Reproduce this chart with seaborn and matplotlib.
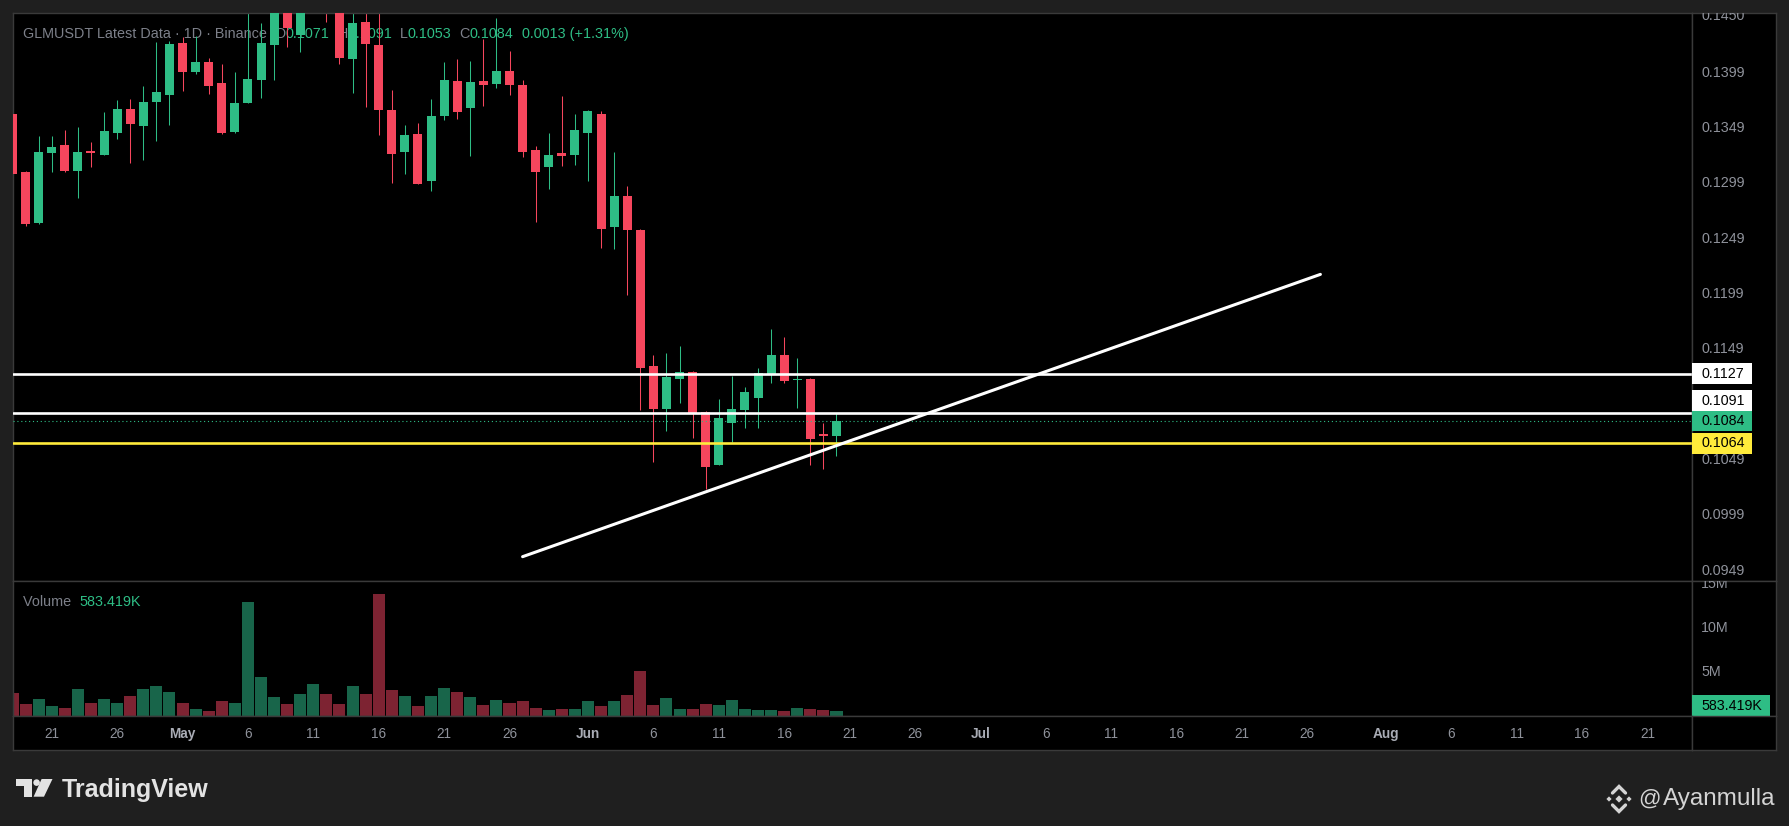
import numpy as np
import pandas as pd
import matplotlib
matplotlib.use("Agg")
import matplotlib.pyplot as plt
import seaborn as sns
from matplotlib.patches import Rectangle, Polygon, Circle
from matplotlib.transforms import blended_transform_factory

#######################################################################
# DATA  (GLMUSDT daily candles)
start_date = "2025-04-18"

opens = [0.13616, 0.13092, 0.12634, 0.13266, 0.13336, 0.13104, 0.13282, 0.13248,
         0.13447, 0.13661, 0.13510, 0.13727, 0.13790, 0.14257, 0.13998, 0.14086,
         0.13896, 0.13456, 0.13718, 0.13926, 0.14242, 0.14780, 0.14332, 0.14850,
         0.15150, 0.14720, 0.14116, 0.14447, 0.14239, 0.13655, 0.13275, 0.13435,
         0.13013, 0.13601, 0.13914, 0.13673, 0.13914, 0.13890, 0.14004, 0.13878,
         0.13291, 0.13140, 0.13264, 0.13248, 0.13447, 0.13616, 0.12598, 0.12875,
         0.12568, 0.11339, 0.10950, 0.11221, 0.11285, 0.10923, 0.10444, 0.10824,
         0.10941, 0.11050, 0.11267, 0.11438, 0.11212, 0.11221, 0.10724, 0.10710]
highs = [0.13634, 0.13101, 0.13417, 0.13417, 0.13471, 0.13498, 0.13363, 0.13634,
         0.13742, 0.13751, 0.13869, 0.14266, 0.14276, 0.14312, 0.14321, 0.14122,
         0.14068, 0.13995, 0.14700, 0.14438, 0.14900, 0.15050, 0.15000, 0.15350,
         0.15300, 0.14800, 0.14600, 0.14620, 0.14600, 0.13833, 0.13517, 0.13535,
         0.13751, 0.14086, 0.14113, 0.14095, 0.14294, 0.14483, 0.14185, 0.13923,
         0.13327, 0.13444, 0.13779, 0.13616, 0.13650, 0.13643, 0.13273, 0.12965,
         0.12575, 0.11438, 0.11456, 0.11519, 0.11290, 0.10930, 0.11041, 0.11248,
         0.11149, 0.11321, 0.11673, 0.11601, 0.11411, 0.11230, 0.10824, 0.10910]
lows = [0.13065, 0.12607, 0.12625, 0.13094, 0.13095, 0.12860, 0.13140, 0.13245,
        0.13393, 0.13176, 0.13203, 0.13375, 0.13519, 0.13826, 0.13980, 0.13799,
        0.13438, 0.13447, 0.13715, 0.13763, 0.13926, 0.14224, 0.14179, 0.14650,
        0.14450, 0.14070, 0.13808, 0.13682, 0.13429, 0.12995, 0.13076, 0.12980,
        0.12923, 0.13564, 0.13573, 0.13239, 0.13691, 0.13854, 0.13790, 0.13230,
        0.12643, 0.12941, 0.13149, 0.13158, 0.13013, 0.12408, 0.12399, 0.11983,
        0.10941, 0.10471, 0.10751, 0.11004, 0.10688, 0.10227, 0.10440, 0.10652,
        0.10779, 0.10779, 0.11185, 0.11185, 0.10959, 0.10444, 0.10408, 0.10530]
closes = [0.13076, 0.12625, 0.13273, 0.13318, 0.13104, 0.13273, 0.13264, 0.13462,
          0.13661, 0.13528, 0.13724, 0.13815, 0.14248, 0.13998, 0.14086, 0.13872,
          0.13447, 0.13715, 0.13932, 0.14257, 0.14800, 0.14390, 0.14850, 0.15200,
          0.14700, 0.14125, 0.14438, 0.14251, 0.13655, 0.13257, 0.13426, 0.12986,
          0.13598, 0.13923, 0.13637, 0.13905, 0.13881, 0.14004, 0.13881, 0.13275,
          0.13095, 0.13245, 0.13239, 0.13471, 0.13643, 0.12580, 0.12875, 0.12571,
          0.11324, 0.10950, 0.11239, 0.11285, 0.10905, 0.10426, 0.10869, 0.10950,
          0.11104, 0.11276, 0.11438, 0.11203, 0.11221, 0.10679, 0.10710, 0.10840]
volumes_m = [2.60, 1.36, 1.93, 1.14, 0.91, 3.07, 1.48, 1.93, 1.48, 2.27, 3.07, 3.41,
             2.73, 1.48, 0.80, 0.57, 1.70, 1.48, 12.95, 4.43, 2.16, 1.36, 2.50, 3.64,
             2.50, 1.36, 3.41, 2.50, 13.86, 2.95, 2.27, 1.14, 2.27, 3.18, 2.73, 2.16,
             1.25, 1.82, 1.48, 1.70, 0.91, 0.68, 0.80, 0.80, 1.70, 1.14, 1.70, 2.39,
             5.11, 1.25, 2.05, 0.80, 0.80, 1.36, 1.25, 1.82, 0.80, 0.68, 0.68, 0.57,
             0.91, 0.80, 0.68, 0.583419]

# drawings on the chart
level_values = [0.1127, 0.1091, 0.1064]
level_colors = ["#ffffff", "#ffffff", "#ffeb3b"]
last_price = 0.1084
trend_dates = ["2025-05-27", "2025-07-27"]
trend_prices = [0.09616, 0.12167]

# axis ticks
price_ticks = [0.0949, 0.0999, 0.1049, 0.1149, 0.1199, 0.1249, 0.1299, 0.1349, 0.1399, 0.1450]
volume_ticks = [5e6, 10e6, 15e6]
volume_tick_labels = ["5M", "10M", "15M"]
date_ticks = ["2025-04-21", "2025-04-26", "2025-05-01", "2025-05-06", "2025-05-11",
              "2025-05-16", "2025-05-21", "2025-05-26", "2025-06-01", "2025-06-06",
              "2025-06-11", "2025-06-16", "2025-06-21", "2025-06-26", "2025-07-01",
              "2025-07-06", "2025-07-11", "2025-07-16", "2025-07-21", "2025-07-26",
              "2025-08-01", "2025-08-06", "2025-08-11", "2025-08-16", "2025-08-21"]
date_tick_labels = ["21", "26", "May", "6", "11", "16", "21", "26", "Jun", "6", "11", "16",
                    "21", "26", "Jul", "6", "11", "16", "21", "26", "Aug", "6", "11", "16", "21"]

legend_parts = [("GLMUSDT Latest Data · 1D · Binance", "grey"), ("  O", "grey"), ("0.1071", "green"),
                ("  H", "grey"), ("0.1091", "green"), ("  L", "grey"), ("0.1053", "green"),
                ("  C", "grey"), ("0.1084", "green"), ("  0.0013 (+1.31%)", "green")]
volume_parts = [("Volume  ", "grey"), ("583.419K", "green")]
#######################################################################

GREEN = "#2ebd85"
RED = "#f6465d"
GREY = "#7d808a"
AXTXT = "#8f929b"
BORDER = "#3a3a3a"
BG = "#1f1f1f"
text_colors = {"grey": GREY, "green": GREEN}

sns.set_theme(style="dark", rc={"axes.facecolor": "black", "figure.facecolor": BG,
                                "savefig.facecolor": BG})
plt.rcParams["font.family"] = ["Liberation Sans", "DejaVu Sans"]

start = pd.Timestamp(start_date)
df = pd.DataFrame({"open": opens, "high": highs, "low": lows, "close": closes,
                   "volume": np.array(volumes_m) * 1e6})
df["date"] = pd.date_range(start, periods=len(df), freq="D")
df["x"] = (df["date"] - start).dt.days
df["direction"] = np.where(df["close"] >= df["open"], "up", "down")

W, H = 1789, 826
fig = plt.figure(figsize=(W / 100, H / 100), dpi=100)


def rect(x0, y0, x1, y1):
    return [x0 / W, 1 - y1 / H, (x1 - x0) / W, (y1 - y0) / H]


L, R, RR = 12.5, 1691.6, 1775.7
T, P, V, D = 13.3, 580.7, 716.0, 750.0

ax = fig.add_axes(rect(L, T, R, P))
axv = fig.add_axes(rect(L, P, R, V), sharex=ax)
axd = fig.add_axes(rect(L, V, R, D), sharex=ax)
axr = fig.add_axes(rect(R, T, RR, P), sharey=ax)
axrv = fig.add_axes(rect(R, P, RR, V), sharey=axv)
axc = fig.add_axes(rect(R, V, RR, D))

for a in [ax, axv, axd, axr, axrv, axc]:
    a.set_facecolor("black")
    a.grid(False)
    for s in a.spines.values():
        s.set_visible(True)
        s.set_color(BORDER)
        s.set_linewidth(1)

# ---------------- legend text (under the candles)
renderer = fig.canvas.get_renderer()


def chain_text(axis, x_px, y_px, parts, size):
    x = x_px / W
    for s, c in parts:
        t = axis.text(x, 1 - y_px / H, s, transform=fig.transFigure, color=text_colors[c],
                      fontsize=size, va="baseline", ha="left", zorder=1)
        bb = t.get_window_extent(renderer=renderer)
        x = fig.transFigure.inverted().transform((bb.x1, bb.y0))[0]


chain_text(ax, 23, 38.3, legend_parts, 10.4)
chain_text(axv, 23, 606, volume_parts, 10.4)

# ---------------- candles
up = df["close"] >= df["open"]
cols = np.where(up, GREEN, RED)
ax.vlines(df["x"], df["low"], df["high"], colors=cols, linewidth=0.75, zorder=2)
body_lo = np.minimum(df["open"], df["close"])
body_h = np.maximum((df["close"] - df["open"]).abs(), 0.0001)
ax.bar(df["x"], body_h, bottom=body_lo, width=0.688, color=cols, linewidth=0, zorder=3)

# ---------------- horizontal levels + trend line
for v, c in zip(level_values, level_colors):
    ax.axhline(v, color=c, linewidth=1.9, zorder=5)
ax.axhline(last_price, color=GREEN, linewidth=0.8, linestyle=(0, (1, 2.5)), zorder=4)

trend_x = [(pd.Timestamp(d) - start).days for d in trend_dates]
sns.lineplot(x=trend_x, y=trend_prices, ax=ax, color="white", linewidth=2.2,
             solid_capstyle="round", zorder=6)

ax.set_ylim(0.09399, 0.14526)
ax.set_xlim(0.0, 128.38)

# ---------------- volume
sns.barplot(data=df, x="x", y="volume", hue="direction",
            palette={"up": "#18654a", "down": "#7d2332"}, native_scale=True,
            width=0.92, dodge=False, saturation=1, errorbar=None, legend=False,
            linewidth=0, ax=axv)
axv.set_ylim(0, 15.375e6)
ax.set_xlim(0.0, 128.38)

for a in [ax, axv, axd, axr, axrv, axc]:
    a.set_xticks([])
    a.set_yticks([])
    a.set_xlabel("")
    a.set_ylabel("")

# ---------------- date axis
tr_d = blended_transform_factory(axd.transData, axd.transAxes)
for d, lab in zip(date_ticks, date_tick_labels):
    xd = (pd.Timestamp(d) - start).days
    is_month = not lab.isdigit()
    axd.text(xd, 0.46, lab, transform=tr_d, ha="center", va="center", fontsize=9.8,
             color="#a9acb5" if is_month else AXTXT,
             fontweight="bold" if is_month else "normal", clip_on=True)

# ---------------- right price scale
axr.set_xlim(0, 1)
tr_r = blended_transform_factory(axr.transAxes, axr.transData)
for v in price_ticks:
    axr.text(0.112, v, f"{v:.4f}", transform=tr_r, ha="left", va="center",
             fontsize=10.3, color=AXTXT, clip_on=True)

box_h = 20.5 * (0.14526 - 0.09399) / (P - T)
label_vals = [level_values[0], level_values[1], last_price, level_values[2]]
label_cols = [level_colors[0], level_colors[1], GREEN, level_colors[2]]
label_pos = [level_values[0], last_price + box_h, last_price, level_values[2]]
for v, c, yp in zip(label_vals, label_cols, label_pos):
    axr.add_patch(Rectangle((0, yp - box_h / 2), 0.713, box_h, transform=tr_r,
                            facecolor=c, edgecolor="none", zorder=3, clip_on=True))
    axr.text(0.112, yp, f"{v:.4f}", transform=tr_r, ha="left", va="center",
             fontsize=10.3, color="black", zorder=4)

# ---------------- right volume scale
tr_rv = blended_transform_factory(axrv.transAxes, axrv.transData)
for v, lab in zip(volume_ticks, volume_tick_labels):
    axrv.text(0.112, v, lab, transform=tr_rv, ha="left", va="center",
              fontsize=10.3, color=AXTXT, clip_on=True)
vbox_h = 21 * 15.375e6 / (V - P)
last_vol = df["volume"].iloc[-1]
vc = max(last_vol, vbox_h / 2)
axrv.add_patch(Rectangle((0, vc - vbox_h / 2), 0.927, vbox_h, transform=tr_rv,
                         facecolor=GREEN, edgecolor="none", zorder=3))
axrv.text(0.112, vc, "583.419K", transform=tr_rv, ha="left", va="center",
          fontsize=10.3, color="black", zorder=4)

# ---------------- footer: TradingView logo and watermark
ov = fig.add_axes([0, 0, 1, 1], zorder=10)
ov.set_xlim(0, W)
ov.set_ylim(H, 0)
ov.axis("off")
ov.patch.set_alpha(0)

logo_c = "#e3e3e3"
ov.add_patch(Polygon([(15.7, 779), (32.3, 779), (32.3, 796.7), (23.6, 796.7),
                      (23.6, 785.6), (15.7, 785.6)], closed=True, fc=logo_c, ec="none"))
ov.add_patch(Circle((36.6, 782.6), 3.3, fc=logo_c, ec="none"))
ov.add_patch(Polygon([(41.6, 779), (52.5, 779), (44.0, 796.7), (33.6, 796.7)],
                     closed=True, fc=logo_c, ec="none"))
ov.text(61.5, 796.7, "TradingView", fontsize=18, fontweight="bold", color=logo_c,
        ha="left", va="baseline")

cx, cy = 1619, 799
wm_c = "#d4d4d4"
for dx, dy, r in [(0, 0, 3.6), (-10, 0, 2.6), (10, 0, 2.6)]:
    ov.add_patch(Polygon([(cx + dx, cy + dy - r), (cx + dx + r, cy + dy),
                          (cx + dx, cy + dy + r), (cx + dx - r, cy + dy)],
                         closed=True, fc=wm_c, ec="none"))
ov.plot([cx - 6.5, cx, cx + 6.5], [cy - 6, cy - 12.5, cy - 6], color=wm_c, lw=2.4,
        solid_joinstyle="miter")
ov.plot([cx - 6.5, cx, cx + 6.5], [cy + 6, cy + 12.5, cy + 6], color=wm_c, lw=2.4,
        solid_joinstyle="miter")
ov.text(1638, 805, "@", fontsize=16, color=wm_c, ha="left", va="baseline")
ov.text(1663, 805, "Ayanmulla", fontsize=17.5, color=wm_c, ha="left", va="baseline")

fig.savefig("out.png", dpi=100, facecolor=BG)
